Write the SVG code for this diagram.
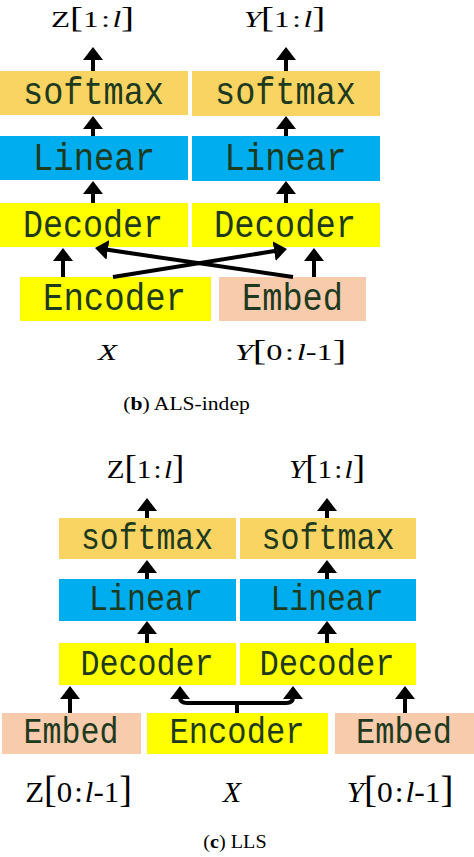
<svg xmlns="http://www.w3.org/2000/svg" width="474" height="857" viewBox="0 0 474 857">
<style>
.softmax{fill:#F9D462}
.linear{fill:#00AEEF}
.yellow{fill:#FFFF00}
.embed{fill:#F8CBAD}
.bt{font-family:"Liberation Mono",monospace;font-size:38px;fill:#1E3A1E;text-anchor:middle}
.bt2{font-family:"Liberation Mono",monospace;font-size:36px;fill:#1E3A1E;text-anchor:middle}
.lab{font-family:"Liberation Serif",serif;fill:#000;text-anchor:middle}
.it{font-style:italic}
.conn path,.conn line{stroke:#000;stroke-width:4;fill:none}
</style>
<defs>
<marker id="ah" viewBox="0 0 13 20" refX="2" refY="10" markerWidth="13" markerHeight="20" markerUnits="userSpaceOnUse" orient="auto">
<path d="M0,0 L13,10 L0,20 z" fill="#000"/>
</marker>
</defs>

<!-- (b) ALS-indep -->
<g id="b-out-z" transform="translate(92.5,27) scale(1.3,1)"><text class="lab" x="0" y="0" font-size="24">Z<tspan font-size="30">[</tspan>1<tspan dx="2">:</tspan><tspan class="it" dx="2">l</tspan><tspan font-size="30">]</tspan></text></g>
<g id="b-out-y" transform="translate(284.5,27) scale(1.3,1)"><text class="lab" x="0" y="0" font-size="24"><tspan class="it">Y</tspan><tspan font-size="30">[</tspan>1<tspan dx="2">:</tspan><tspan class="it" dx="2">l</tspan><tspan font-size="30">]</tspan></text></g>
<g id="b-softmax-l"><rect class="softmax" x="0" y="71" width="188" height="44"/><text class="bt" x="93.5" y="104" textLength="141" lengthAdjust="spacingAndGlyphs">softmax</text></g>
<g id="b-softmax-r"><rect class="softmax" x="192" y="71" width="188" height="45"/><text class="bt" x="285.5" y="104" textLength="141" lengthAdjust="spacingAndGlyphs">softmax</text></g>
<g id="b-linear-l"><rect class="linear" x="0" y="136" width="188" height="44"/><text class="bt" x="94" y="170" textLength="122" lengthAdjust="spacingAndGlyphs">Linear</text></g>
<g id="b-linear-r"><rect class="linear" x="192" y="136" width="188" height="45"/><text class="bt" x="285.5" y="170" textLength="122" lengthAdjust="spacingAndGlyphs">Linear</text></g>
<g id="b-decoder-l"><rect class="yellow" x="0" y="203" width="188" height="44"/><text class="bt" x="93" y="237" textLength="140" lengthAdjust="spacingAndGlyphs">Decoder</text></g>
<g id="b-decoder-r"><rect class="yellow" x="192" y="203" width="188" height="44"/><text class="bt" x="285" y="237" textLength="142" lengthAdjust="spacingAndGlyphs">Decoder</text></g>
<g id="b-encoder"><rect class="yellow" x="20" y="277" width="191" height="44"/><text class="bt" x="114.5" y="310" textLength="143" lengthAdjust="spacingAndGlyphs">Encoder</text></g>
<g id="b-embed"><rect class="embed" x="219" y="277" width="147" height="44"/><text class="bt" x="292.5" y="310" textLength="101" lengthAdjust="spacingAndGlyphs">Embed</text></g>
<g id="b-in-x" transform="translate(107.5,360) scale(1.3,1)"><text class="lab it" x="0" y="0" font-size="24">X</text></g>
<g id="b-in-y" transform="translate(290.5,360) scale(1.35,1)"><text class="lab" x="0" y="0" font-size="24"><tspan class="it">Y</tspan><tspan font-size="30">[</tspan>0<tspan dx="2">:</tspan><tspan class="it" dx="2">l</tspan>-1<tspan font-size="30">]</tspan></text></g>
<g id="b-caption" transform="translate(186.5,410) scale(1.2,1)"><text class="lab" x="0" y="0" font-size="18">(<tspan font-weight="bold">b</tspan>) ALS-indep</text></g>

<!-- (c) LLS -->
<g id="c-out-z" transform="translate(145.5,478) scale(1.12,1)"><text class="lab" x="0" y="0" font-size="26">Z<tspan font-size="33">[</tspan>1<tspan dx="2">:</tspan><tspan class="it" dx="2">l</tspan><tspan font-size="33">]</tspan></text></g>
<g id="c-out-y" transform="translate(327,478) scale(1.12,1)"><text class="lab" x="0" y="0" font-size="26"><tspan class="it">Y</tspan><tspan font-size="33">[</tspan>1<tspan dx="2">:</tspan><tspan class="it" dx="2">l</tspan><tspan font-size="33">]</tspan></text></g>
<g id="c-softmax-l"><rect class="softmax" x="59" y="518" width="177" height="41"/><text class="bt2" x="147" y="549" textLength="132" lengthAdjust="spacingAndGlyphs">softmax</text></g>
<g id="c-softmax-r"><rect class="softmax" x="240" y="518" width="176" height="41"/><text class="bt2" x="328" y="549" textLength="133" lengthAdjust="spacingAndGlyphs">softmax</text></g>
<g id="c-linear-l"><rect class="linear" x="59" y="579" width="177" height="42"/><text class="bt2" x="146" y="610" textLength="114" lengthAdjust="spacingAndGlyphs">Linear</text></g>
<g id="c-linear-r"><rect class="linear" x="240" y="579" width="176" height="42"/><text class="bt2" x="327" y="610" textLength="113" lengthAdjust="spacingAndGlyphs">Linear</text></g>
<g id="c-decoder-l"><rect class="yellow" x="59" y="643" width="177" height="42"/><text class="bt2" x="147" y="675" textLength="133" lengthAdjust="spacingAndGlyphs">Decoder</text></g>
<g id="c-decoder-r"><rect class="yellow" x="240" y="643" width="176" height="42"/><text class="bt2" x="327" y="675" textLength="135" lengthAdjust="spacingAndGlyphs">Decoder</text></g>
<g id="c-embed-l"><rect class="embed" x="2" y="713" width="139" height="41"/><text class="bt2" x="71" y="743" textLength="95" lengthAdjust="spacingAndGlyphs">Embed</text></g>
<g id="c-encoder"><rect class="yellow" x="147" y="713" width="181" height="41"/><text class="bt2" x="237" y="743" textLength="135" lengthAdjust="spacingAndGlyphs">Encoder</text></g>
<g id="c-embed-r"><rect class="embed" x="335" y="713" width="139" height="41"/><text class="bt2" x="404" y="743" textLength="96" lengthAdjust="spacingAndGlyphs">Embed</text></g>
<g id="c-in-z" transform="translate(78.5,802) scale(1.03,1)"><text class="lab" x="0" y="0" font-size="30">Z<tspan font-size="37">[</tspan>0<tspan dx="2">:</tspan><tspan class="it" dx="2">l</tspan>-1<tspan font-size="37">]</tspan></text></g>
<g id="c-in-x"><text class="lab it" x="232" y="802" font-size="30">X</text></g>
<g id="c-in-y" transform="translate(400,802) scale(1.05,1)"><text class="lab" x="0" y="0" font-size="30"><tspan class="it">Y</tspan><tspan font-size="37">[</tspan>0<tspan dx="2">:</tspan><tspan class="it" dx="2">l</tspan>-1<tspan font-size="37">]</tspan></text></g>
<g id="c-caption" transform="translate(235,848) scale(1.12,1)"><text class="lab" x="0" y="0" font-size="18">(<tspan font-weight="bold">c</tspan>) LLS</text></g>

<g id="connectors" class="conn">
<!-- (b) -->
<line x1="93" y1="71" x2="93" y2="58" marker-end="url(#ah)"/>
<line x1="286" y1="71" x2="286" y2="58" marker-end="url(#ah)"/>
<line x1="93" y1="136" x2="93" y2="127" marker-end="url(#ah)"/>
<line x1="286" y1="136" x2="286" y2="127" marker-end="url(#ah)"/>
<line x1="93" y1="203" x2="93" y2="192" marker-end="url(#ah)"/>
<line x1="286" y1="203" x2="286" y2="192" marker-end="url(#ah)"/>
<line x1="63" y1="277" x2="63" y2="259" marker-end="url(#ah)"/>
<line x1="314" y1="277" x2="314" y2="259" marker-end="url(#ah)"/>
<line x1="293" y1="277" x2="105.9" y2="249.6" marker-end="url(#ah)"/>
<line x1="113" y1="277" x2="276.1" y2="250.8" marker-end="url(#ah)"/>
<!-- (c) -->
<line x1="147" y1="518" x2="147" y2="509" marker-end="url(#ah)"/>
<line x1="327" y1="518" x2="327" y2="509" marker-end="url(#ah)"/>
<line x1="147" y1="579" x2="147" y2="571" marker-end="url(#ah)"/>
<line x1="327" y1="579" x2="327" y2="571" marker-end="url(#ah)"/>
<line x1="147" y1="643" x2="147" y2="632" marker-end="url(#ah)"/>
<line x1="327" y1="643" x2="327" y2="632" marker-end="url(#ah)"/>
<line x1="70" y1="713" x2="70" y2="697" marker-end="url(#ah)"/>
<line x1="405" y1="713" x2="405" y2="697" marker-end="url(#ah)"/>
<path d="M237,713 V703 H187 Q180,703 180,697" marker-end="url(#ah)"/>
<path d="M237,703 H286 Q293,703 293,697" marker-end="url(#ah)"/>
</g>
</svg>
